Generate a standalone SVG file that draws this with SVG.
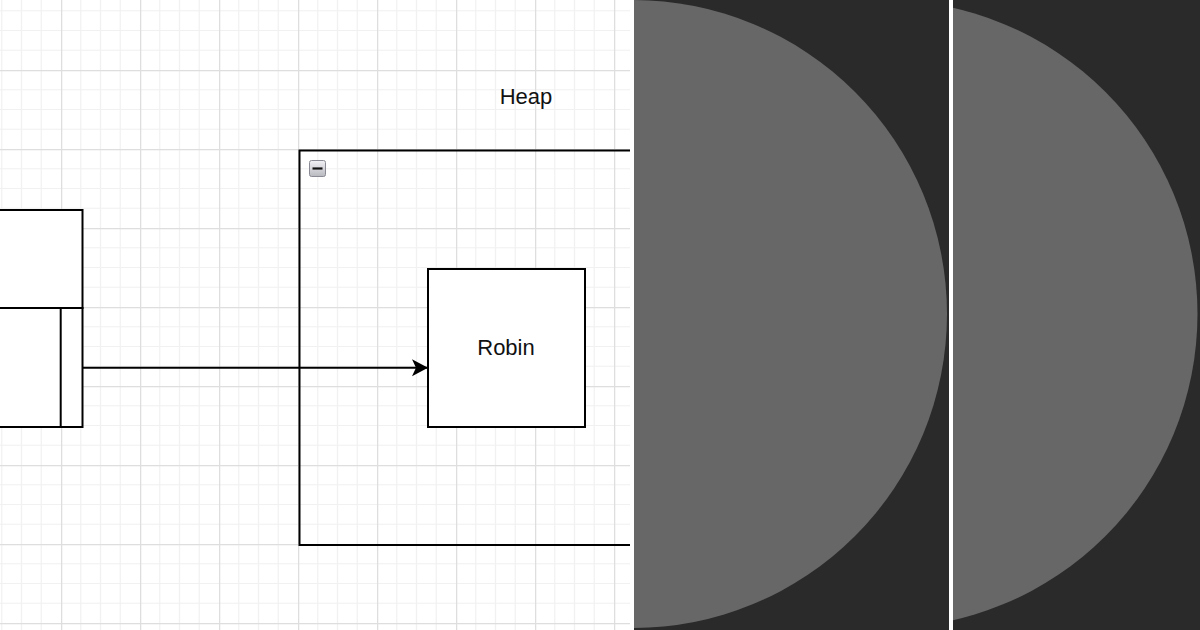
<svg xmlns="http://www.w3.org/2000/svg" width="1200" height="630" viewBox="0 0 1200 630">
  <style>
    .shape { fill: #ffffff; stroke: #000000; stroke-width: 2; }
    .line { fill: none; stroke: #000000; stroke-width: 2; }
    .label { font-family: "Liberation Sans", Arial, sans-serif; font-size: 22px; fill: #111111; }
    .dark { fill: #2a2a2a; }
    .disc { fill: #676767; }
  </style>
  <defs>
    <pattern id="grid" patternUnits="userSpaceOnUse" x="-18" y="-9" width="79" height="79">
      <rect width="79" height="79" fill="#ffffff"/>
      <path d="M19.75,0 V79 M39.5,0 V79 M59.25,0 V79 M0,19.75 H79 M0,39.5 H79 M0,59.25 H79" stroke="#f1f1f1" stroke-width="1.2" fill="none"/>
      <path d="M0.5,0 V79 M0,0.5 H79" stroke="#dedede" stroke-width="1.5" fill="none"/>
    </pattern>
    <linearGradient id="iconGrad" x1="0" y1="0" x2="0" y2="1">
      <stop offset="0" stop-color="#f2f2f5"/>
      <stop offset="1" stop-color="#b8b8c0"/>
    </linearGradient>
    <clipPath id="leftClip"><rect x="0" y="0" width="630" height="630"/></clipPath>
    <clipPath id="p1"><rect x="634" y="0" width="315" height="630"/></clipPath>
    <clipPath id="p2"><rect x="953" y="0" width="247" height="630"/></clipPath>
    <marker id="arrow" markerWidth="18" markerHeight="18" viewBox="0 0 18 18" refX="16" refY="9" orient="auto" markerUnits="userSpaceOnUse">
      <path d="M16,9 L0,0.5 L4,9 L0,17.5 Z" fill="#000000"/>
    </marker>
  </defs>

  <rect x="0" y="0" width="1200" height="630" fill="#ffffff"/>

  <g id="canvas" clip-path="url(#leftClip)">
    <rect x="0" y="0" width="630" height="630" fill="url(#grid)"/>

    <g id="heap-container">
      <rect x="299.5" y="150.5" width="400" height="394.5" fill="none" stroke="#000000" stroke-width="2"/>
      <g id="collapse-icon">
        <rect x="309.5" y="160.5" width="16" height="16" rx="2" fill="url(#iconGrad)" stroke="#8a8a94" stroke-width="1"/>
        <line x1="312.5" y1="168.5" x2="322.5" y2="168.5" stroke="#111111" stroke-width="2.2"/>
      </g>
    </g>

    <g id="stack-frame">
      <rect class="shape" x="-20" y="210" width="102.5" height="98"/>
      <rect class="shape" x="-20" y="308" width="102.5" height="119"/>
      <line class="line" x1="60.7" y1="308" x2="60.7" y2="427"/>
    </g>

    <g id="robin">
      <rect class="shape" x="428" y="269" width="157" height="158"/>
      <text class="label" x="506" y="354.5" text-anchor="middle">Robin</text>
    </g>

    <g id="heap-label">
      <text class="label" x="526" y="103.5" text-anchor="middle">Heap</text>
    </g>

    <g id="connectors">
      <line class="line" x1="82.5" y1="367.7" x2="428" y2="367.7" marker-end="url(#arrow)"/>
    </g>
  </g>

  <g id="panel-1">
    <rect class="dark" x="634" y="0" width="315" height="630"/>
    <circle class="disc" cx="633" cy="314" r="314" clip-path="url(#p1)"/>
  </g>

  <g id="panel-2">
    <rect class="dark" x="953" y="0" width="247" height="630"/>
    <circle class="disc" cx="883.5" cy="314" r="314" clip-path="url(#p2)"/>
  </g>
</svg>
